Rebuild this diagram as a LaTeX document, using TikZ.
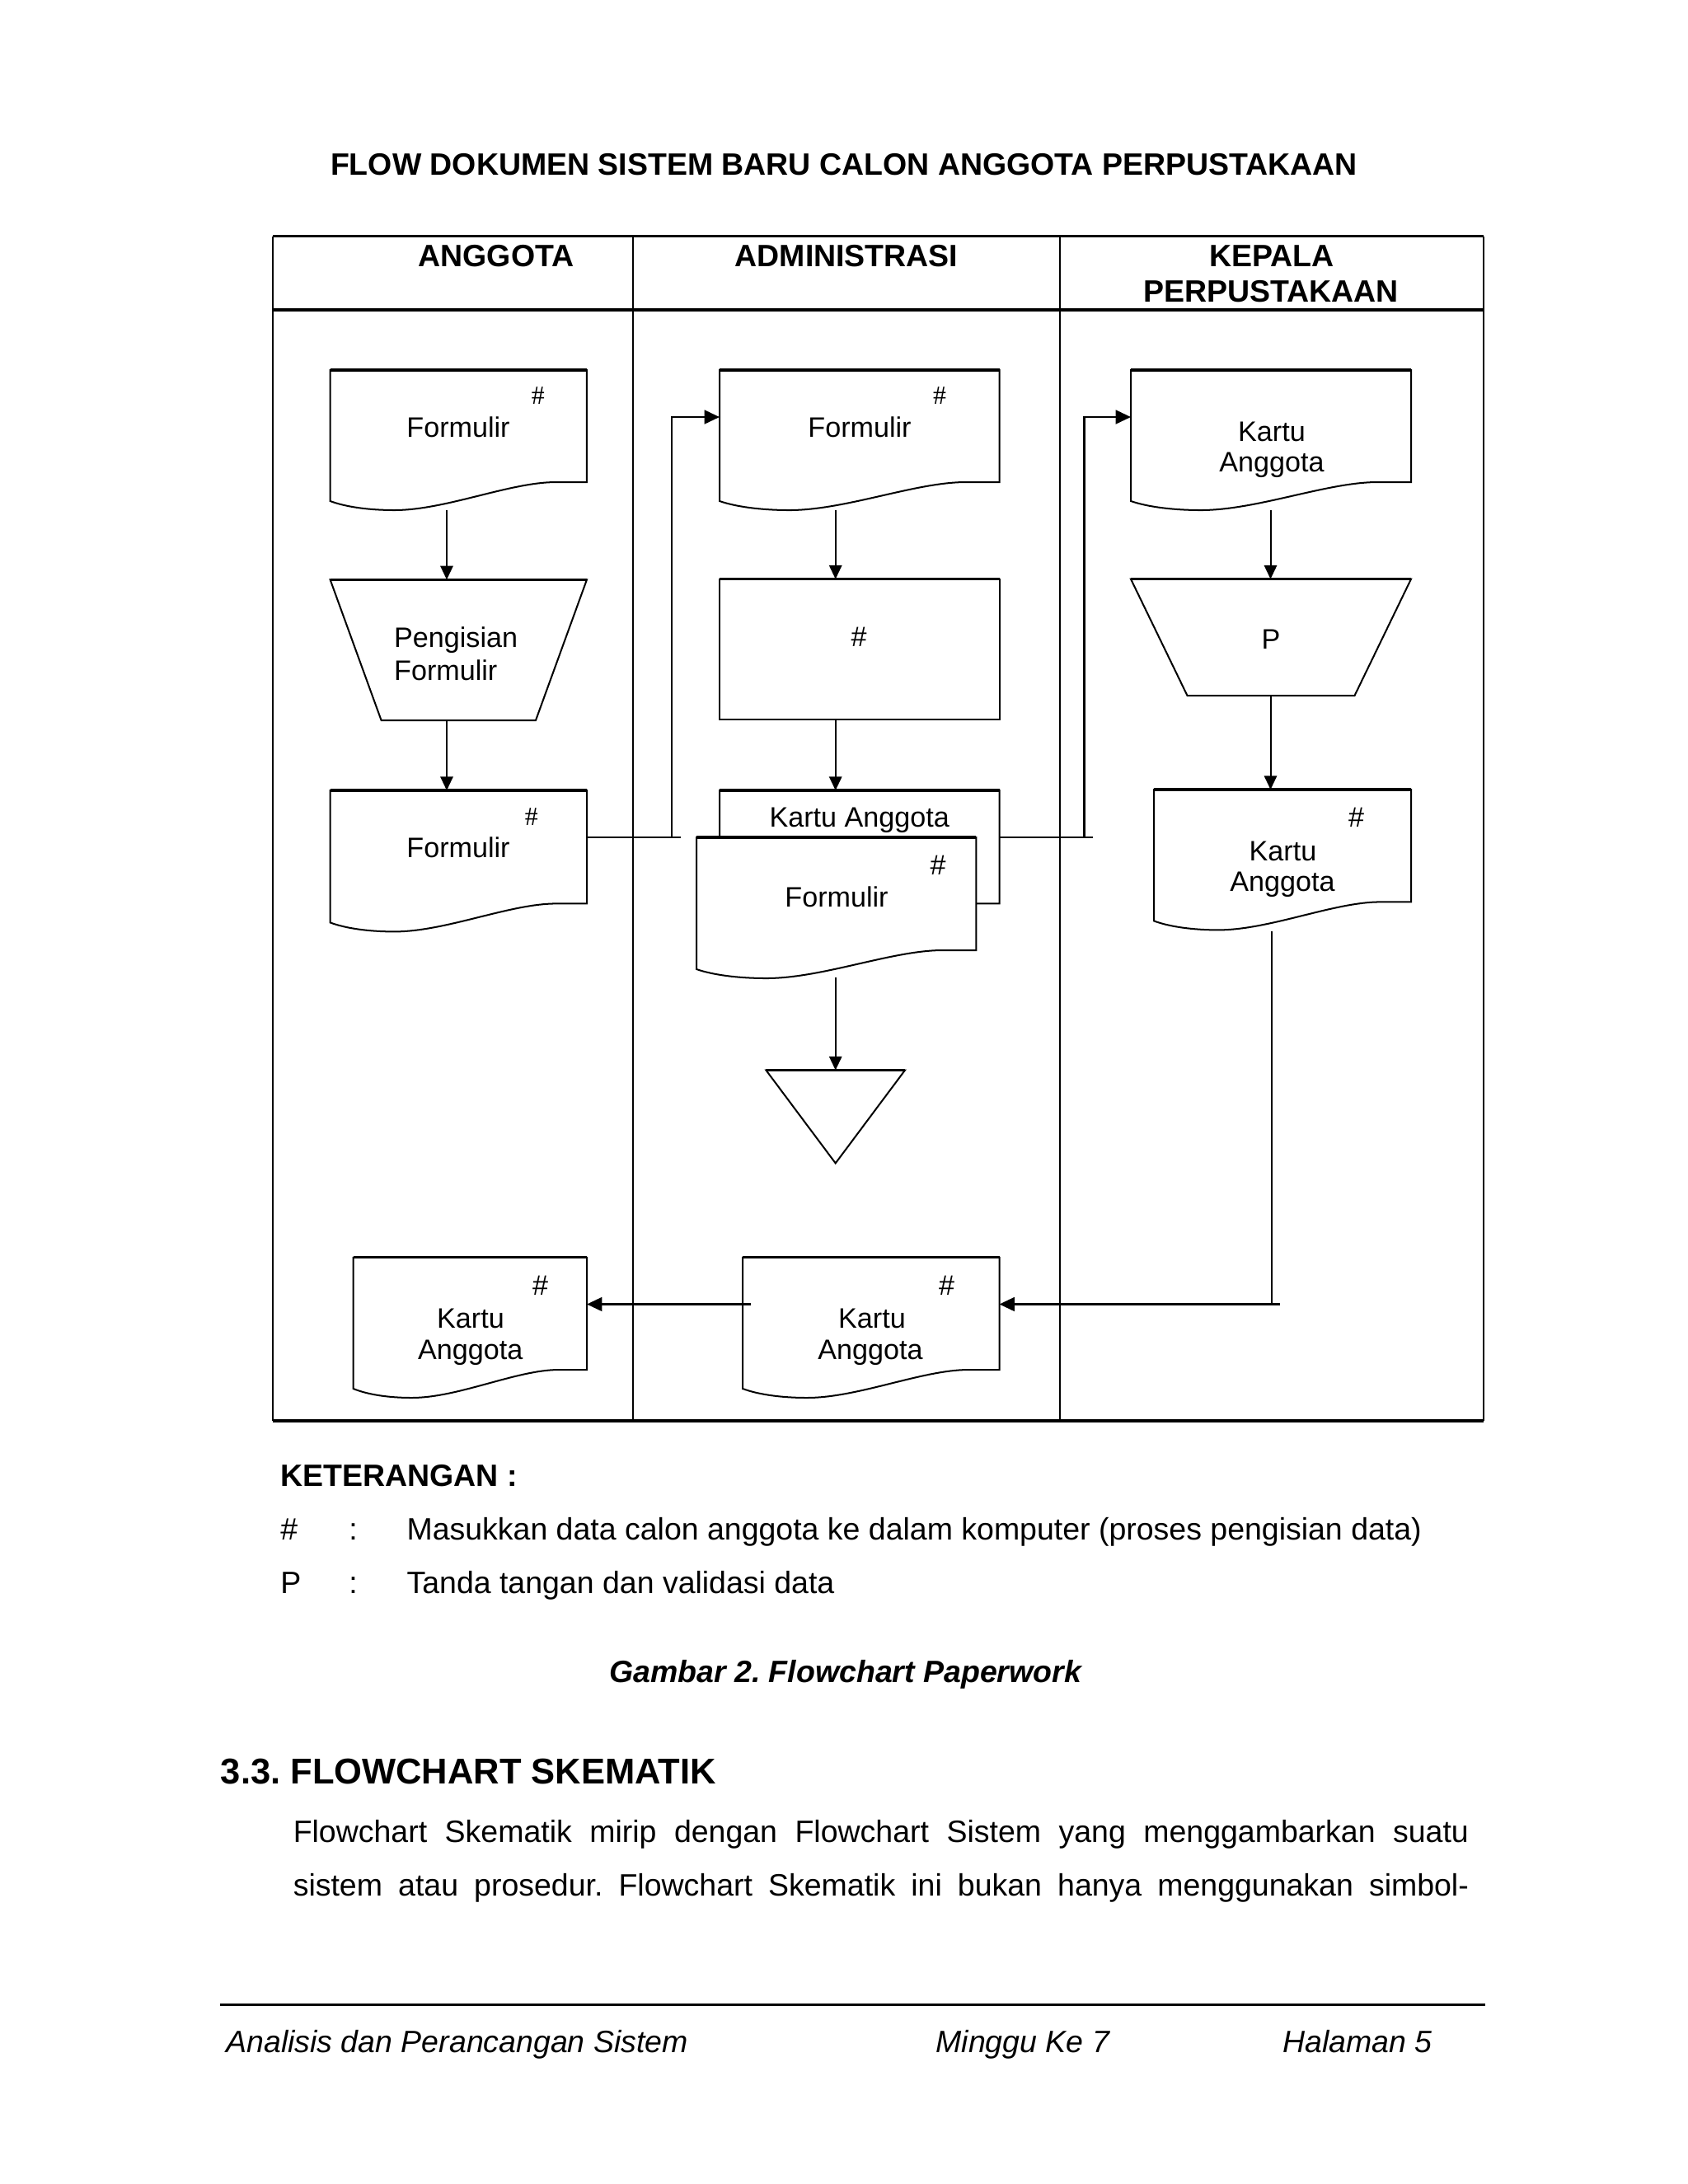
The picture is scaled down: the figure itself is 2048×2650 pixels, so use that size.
\documentclass[tikz,border=0pt]{standalone}
\usepackage{fontspec}
\setmainfont{Liberation Sans}
\newfontfamily\hashfont{Liberation Serif}
\usetikzlibrary{fit,calc,arrows.meta}
\frenchspacing

\newcommand{\docpath}[1]{%
  \filldraw[shp] (#1.north west) -- (#1.north east) -- (#1.south east)
   -- ($(#1.south east)!0.12!(#1.south west)$)
   .. controls ($(#1.south east)!0.30!(#1.south west)$) and ($(#1.south east)!0.55!(#1.south west)+(0,34)$)
   .. ($(#1.south east)!0.75!(#1.south west)+(0,34)$)
   .. controls ($(#1.south east)!0.85!(#1.south west)+(0,34)$) and ($(#1.south east)!0.94!(#1.south west)+(0,30)$)
   .. ($(#1.south west)+(0,23)$) -- cycle;
  \draw[topline] (#1.north west) -- (#1.north east);}
\newcommand{\trappath}[2]{%
  \filldraw[shp] (#1.north west) -- (#1.north east) -- ($(#1.south east)+(-#2,0)$) -- ($(#1.south west)+(#2,0)$) -- cycle;
  \draw[topline] (#1.north west) -- (#1.north east);}
\newcommand{\rectpath}[1]{%
  \filldraw[shp] (#1.north west) rectangle (#1.south east);
  \draw[topline] (#1.north west) -- (#1.north east);}
\newcommand{\tripath}[1]{%
  \filldraw[shp] (#1.north west) -- (#1.north east) -- (#1.south) -- cycle;
  \draw[topline] (#1.north west) -- (#1.north east);}

\begin{document}
\begin{tikzpicture}[x=0.29883pt,y=-0.29883pt,
  shp/.style={draw=black, line width=0.6pt, fill=white},
  topline/.style={line width=1pt},
  box/.style={inner sep=0pt, outer sep=0pt, draw=none},
  tblthin/.style={line width=0.55pt},
  tblthick/.style={line width=1pt},
  conn/.style={line width=0.6pt},
  hconn/.style={line width=0.8pt},
  arr/.style={conn, -{Triangle[length=5pt,width=4.6pt]}},
  harr/.style={hconn, -{Triangle[length=5.5pt,width=5pt]}},
  stxt/.style={font=\fontsize{10.2}{12}\selectfont, inner sep=0pt, anchor=base},
  stxtl/.style={stxt, anchor=base west},
  hashs/.style={font=\hashfont\fontsize{9.5}{11}\selectfont, inner sep=0pt, anchor=base},
  hashb/.style={font=\fontsize{10.2}{12}\selectfont, inner sep=0pt, anchor=base},
  hdr/.style={font=\bfseries\fontsize{11.2}{13}\selectfont, inner sep=0pt, anchor=base},
  body/.style={font=\fontsize{11.2}{13}\selectfont, inner sep=0pt, anchor=base west},
  foot/.style={font=\itshape\fontsize{11.2}{13}\selectfont, inner sep=0pt, anchor=base west}
]
\fill[white] (0,0) rectangle (2048,2650);
\useasboundingbox (0,0) rectangle (2048,2650);

% title
\node[hdr] (title) at (1024,212.7) {FLOW DOKUMEN SISTEM BARU CALON ANGGOTA PERPUSTAKAAN};

% table
\draw[tblthin] (331,286.7) -- (331,1724);
\draw[tblthin] (1800,286.7) -- (1800,1724);
\draw[tblthin] (768,286.7) -- (768,1724);
\draw[tblthin] (1285.6,286.7) -- (1285.6,1724);
\draw[tblthick] (331,286.7) -- (1800,286.7);
\draw[tblthick] (331,376) -- (1800,376);
\draw[tblthick] (331,1724) -- (1800,1724);
\node[hdr] (hA) at (602,323.3) {ANGGOTA};
\node[hdr] (hB) at (1027,323.3) {ADMINISTRASI};
\node[hdr] (hC1) at (1543,323.3) {KEPALA};
\node[hdr] (hC2) at (1542,366.7) {PERPUSTAKAAN};

% shape frames
\node[box, fit={(400.6,449) (711.9,585)}] (a1) {};
\node[box, fit={(400.6,703.3) (712,874)}] (a2) {};
\node[box, fit={(400.6,959) (712,1096.4)}] (a3) {};
\node[box, fit={(873,449) (1212.5,585)}] (b1) {};
\node[box, fit={(873,702.6) (1212.5,873.2)}] (b2) {};
\node[box, fit={(873,959) (1212.5,1096.4)}] (b3k) {};
\node[box, fit={(845,1016) (1184.4,1153)}] (b3f) {};
\node[box, fit={(929.4,1298.5) (1098,1411.4)}] (tri) {};
\node[box, fit={(1372,449) (1712,585)}] (c1) {};
\node[box, fit={(1372,702.6) (1712,844)}] (c2) {};
\node[box, fit={(1400,958) (1712,1094.4)}] (c3) {};
\node[box, fit={(428.7,1525.8) (712,1662)}] (d1) {};
\node[box, fit={(901.2,1525.8) (1212.5,1662)}] (d2) {};

\docpath{a1}
\trappath{a2}{62}
\docpath{a3}
\docpath{b1}
\rectpath{b2}
\docpath{b3k}
\docpath{b3f}
\tripath{tri}
\docpath{c1}
\trappath{c2}{68.5}
\docpath{c3}
\docpath{d1}
\docpath{d2}

% texts in shapes
\node[hashs] (a1h) at (652.8,490.7) {\#};
\node[stxt] (a1t) at (556,530) {Formulir};
\node[hashs] (b1h) at (1140,490.7) {\#};
\node[stxt] (b1t) at (1043,530) {Formulir};
\node[stxt] (c1t1) at (1543,535) {Kartu};
\node[stxt] (c1t2) at (1543,572) {Anggota};
\node[stxtl] (a2t1) at (477.5,785.6) {Pengisian};
\node[stxtl] (a2t2) at (477.5,825.8) {Formulir};
\node[hashb] (b2t) at (1042,784.5) {\#};
\node[stxt] (c2t) at (1542,787.5) {P};
\node[hashs] (a3h) at (644.9,1001) {\#};
\node[stxt] (a3t) at (556,1040) {Formulir};
\node[stxt] (b3kt) at (1042.7,1003.7) {Kartu Anggota};
\node[hashb] (b3fh) at (1138,1061) {\#};
\node[stxt] (b3ft) at (1015,1100.6) {Formulir};
\node[hashb] (c3h) at (1645.5,1003.7) {\#};
\node[stxt] (c3t1) at (1556.5,1044) {Kartu};
\node[stxt] (c3t2) at (1556,1081.4) {Anggota};
\node[hashb] (d1h) at (655.5,1571) {\#};
\node[stxt] (d1t1) at (571,1611) {Kartu};
\node[stxt] (d1t2) at (570.8,1649.4) {Anggota};
\node[hashb] (d2h) at (1148.5,1571) {\#};
\node[stxt] (d2t1) at (1058,1611) {Kartu};
\node[stxt] (d2t2) at (1056,1649.4) {Anggota};

% connectors
\coordinate (a1o) at (542,619.3);
\coordinate (b1o) at (1013.7,619.3);
\coordinate (b3o) at (1013.7,1185.5);
\coordinate (c1o) at (1541.5,619.3);
\coordinate (c3o) at (1542.5,1130);
\coordinate (j1) at (815,1016);
\coordinate (j1t) at (815,506);
\coordinate (j1e) at (826,1016);
\coordinate (j2) at (1315.6,1016);
\coordinate (j2t) at (1315.6,506);
\coordinate (j2e) at (1326,1016);
\coordinate (cc) at (1542.5,1582.5);
\coordinate (cce) at (1552.8,1582.5);
\coordinate (d2s) at (910.6,1582.5);

\draw[arr] (a1o) -- (a1o |- a2.north);
\draw[arr] (a1o |- a2.south) -- (a1o |- a3.north);
\draw[arr] (b1o) -- (b1o |- b2.north);
\draw[arr] (b1o |- b2.south) -- (b1o |- b3k.north);
\draw[arr] (b3o) -- (tri.north);
\draw[arr] (c1o) -- (c1o |- c2.north);
\draw[arr] (c1o |- c2.south) -- (c1o |- c3.north);

\draw[hconn] (j1 -| a3.east) -- (j1e);
\draw[harr] (j1) -- (j1t) -- (j1t -| b1.west);
\draw[hconn] (j2 -| b3k.east) -- (j2e);
\draw[harr] (j2) -- (j2t) -- (j2t -| c1.west);

\draw[conn] (c3o) -- (cc);
\draw[harr] (cce) -- (cc -| d2.east);
\draw[harr] (d2s) -- (cc -| d1.east);

% legend
\node[font=\bfseries\fontsize{11.2}{13}\selectfont, inner sep=0pt, anchor=base west] (ket) at (339.8,1803.3) {KETERANGAN :};
\node[body] (l1a) at (339.8,1868.3) {\#};
\node[body, anchor=base] (l1b) at (428.6,1868.3) {:};
\node[body] (l1c) at (492.9,1868.3) {Masukkan data calon anggota ke dalam komputer (proses pengisian data)};
\node[body] (l2a) at (339.8,1933.3) {P};
\node[body, anchor=base] (l2b) at (428.6,1933.3) {:};
\node[body] (l2c) at (492.9,1933.3) {Tanda tangan dan validasi data};
\node[font=\bfseries\itshape\fontsize{11.2}{13}\selectfont, inner sep=0pt, anchor=base] (cap) at (1025.6,2041.7) {Gambar 2. Flowchart Paperwork};

% section
\node[font=\bfseries\fontsize{13}{15}\selectfont, inner sep=0pt, anchor=base west] (sec) at (267.2,2164.8) {3.3. FLOWCHART SKEMATIK};
\node[body] (p1) at (355.1,2235.6) {\makebox[426.2pt][s]{Flowchart Skematik mirip dengan Flowchart Sistem yang menggambarkan suatu}};
\node[body] (p2) at (355.1,2300.7) {\makebox[426.2pt][s]{sistem atau prosedur. Flowchart Skematik ini bukan hanya menggunakan simbol-}};

% footer
\draw[line width=0.75pt] (267.2,2432.7) -- (1802,2432.7);
\node[foot] (f1) at (273.8,2490.1) {Analisis dan Perancangan Sistem};
\node[foot] (f2) at (1134.9,2490.1) {Minggu Ke 7};
\node[foot] (f3) at (1555.8,2490.1) {Halaman 5};
\end{tikzpicture}
\end{document}
